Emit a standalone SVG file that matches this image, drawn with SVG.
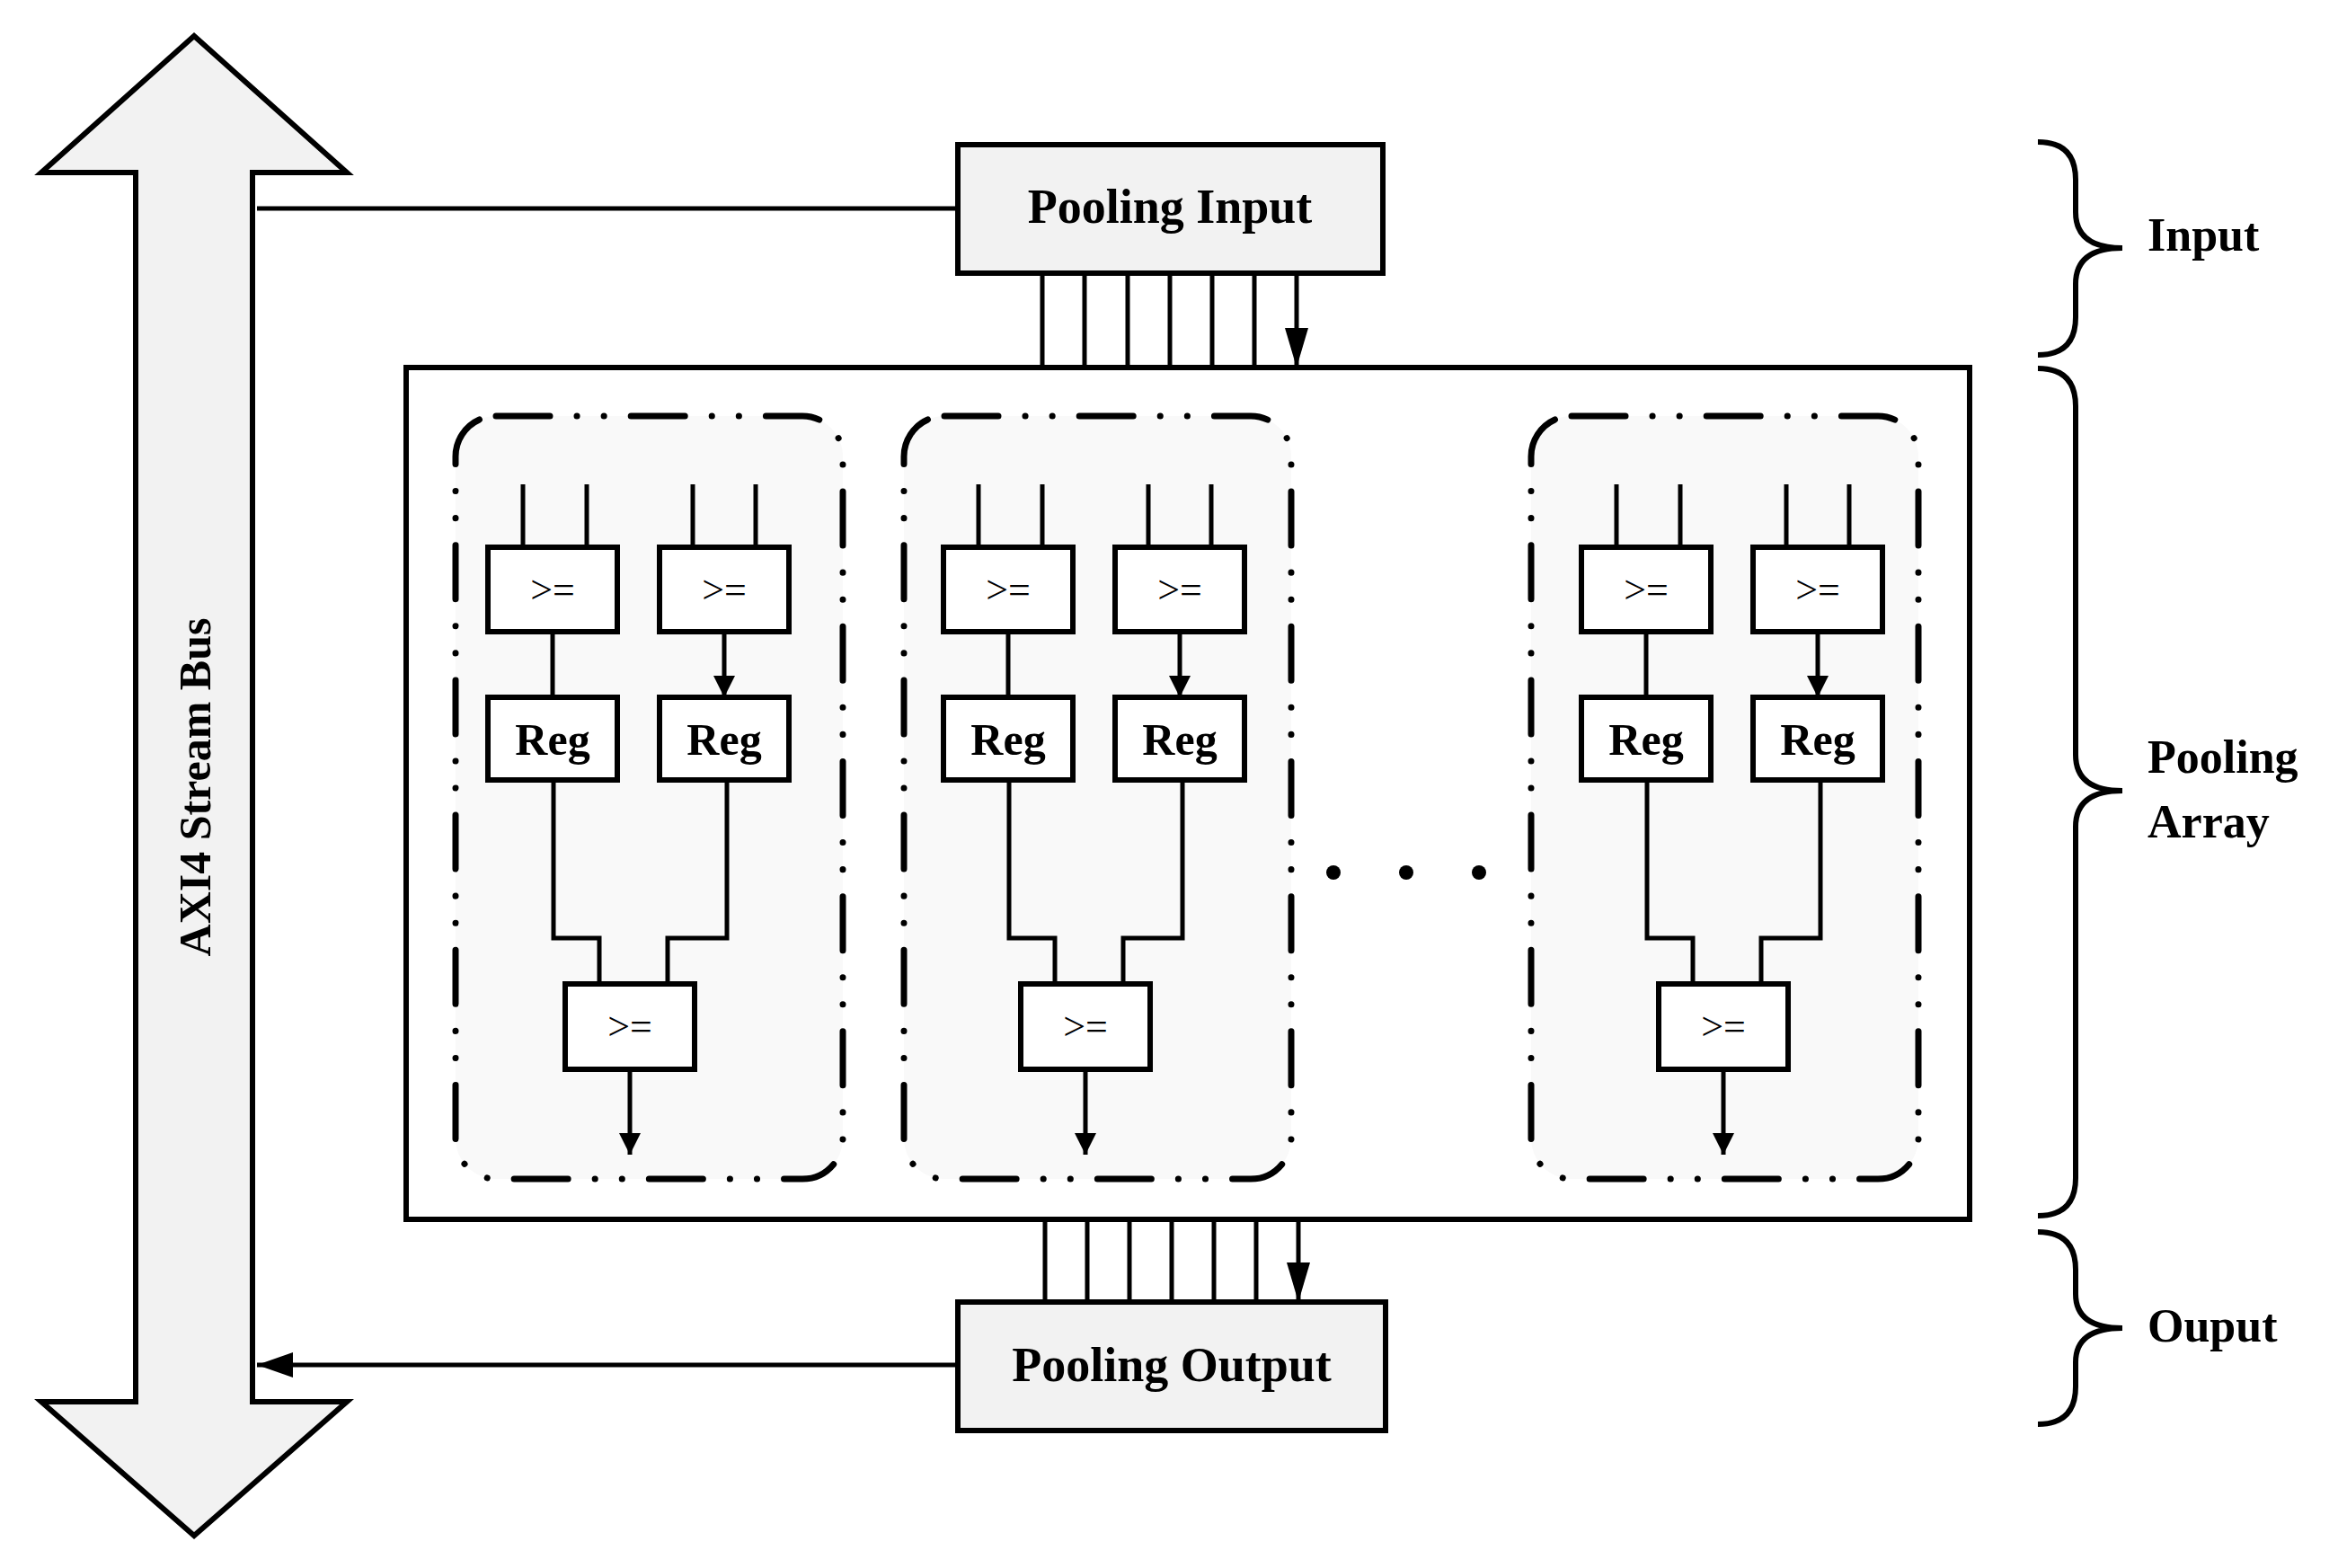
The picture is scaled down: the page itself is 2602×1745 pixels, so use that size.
<svg xmlns="http://www.w3.org/2000/svg" width="2602" height="1745" viewBox="0 0 2602 1745">
<style>
.box{fill:#f2f2f2;stroke:#000;stroke-width:6}
.wbox{fill:#fff;stroke:#000;stroke-width:6}
.ln{fill:none;stroke:#000;stroke-width:5}
.t{font-family:"Liberation Serif",serif;font-weight:bold;fill:#000}
.c{font-family:"Liberation Serif",serif;fill:#000;font-size:44px}
.grp{fill:#f9f9f9;stroke:#000;stroke-width:7;stroke-linecap:round;stroke-dasharray:60 30 0.1 30 0.1 30}
</style>
<defs>
<marker id="a" markerUnits="userSpaceOnUse" markerWidth="26" markerHeight="24" refX="24" refY="12" orient="auto"><path d="M0,0 L24,12 L0,24 z" fill="#000"/></marker>
<marker id="b" markerUnits="userSpaceOnUse" markerWidth="46" markerHeight="26" refX="44" refY="13" orient="auto"><path d="M0,0 L44,13 L0,26 z" fill="#000"/></marker>
<marker id="h" markerUnits="userSpaceOnUse" markerWidth="42" markerHeight="28" refX="40" refY="14" orient="auto"><path d="M0,0 L40,14 L0,28 z" fill="#000"/></marker>
<g id="subunit">
<path class="ln" d="M582,539 V609 M653,539 V609 M771,539 V609 M841,539 V609 M615,703 V776 M806,703 V776" marker-end="url(#a)"/>
<rect class="wbox" x="543" y="609" width="144" height="94"/>
<rect class="wbox" x="734" y="609" width="144" height="94"/>
<text class="c" x="615" y="671" text-anchor="middle">&gt;=</text>
<text class="c" x="806" y="671" text-anchor="middle">&gt;=</text>
<rect class="wbox" x="543" y="776" width="144" height="92"/>
<rect class="wbox" x="734" y="776" width="144" height="92"/>
<text class="t" x="615" y="840" font-size="50" text-anchor="middle">Reg</text>
<text class="t" x="806" y="840" font-size="50" text-anchor="middle">Reg</text>
<path class="ln" d="M616,868 V1044 H667 V1095 M809,868 V1044 H743 V1095 M701,1190 V1285" marker-end="url(#a)"/>
<rect class="wbox" x="629" y="1095" width="144" height="95"/>
<text class="c" x="701" y="1157" text-anchor="middle">&gt;=</text>
</g>
</defs>
<g id="bus">
<path d="M216,40 L386,192 L281,192 L281,1560 L386,1560 L216,1709 L46,1560 L151,1560 L151,192 L46,192 Z" fill="#f2f2f2" stroke="#000" stroke-width="6" stroke-linejoin="miter"/>
<text class="t" font-size="50" transform="translate(234,876) rotate(-90)" text-anchor="middle">AXI4 Stream Bus</text>
</g>
<g id="pooling-input">
<rect class="box" x="1066" y="161" width="473" height="143"/>
<text class="t" x="1302" y="248" font-size="54" text-anchor="middle">Pooling Input</text>
</g>
<g id="pooling-array">
<rect class="wbox" x="452" y="409" width="1740" height="948" stroke-width="4"/>
<rect class="grp" x="507" y="463" width="431" height="849" rx="45"/>
<rect class="grp" x="1006" y="463" width="431" height="849" rx="45"/>
<rect class="grp" x="1704" y="463" width="431" height="849" rx="45"/>
<use href="#subunit"/>
<use href="#subunit" transform="translate(507,0)"/>
<use href="#subunit" transform="translate(1217,0)"/>
<circle cx="1484" cy="971" r="8"/><circle cx="1565" cy="971" r="8"/><circle cx="1646" cy="971" r="8"/>
</g>
<g id="pooling-output">
<rect class="box" x="1066" y="1449" width="476" height="143"/>
<text class="t" x="1304" y="1537" font-size="54" text-anchor="middle">Pooling Output</text>
</g>
<g id="connectors">
<path class="ln" d="M1066,232 H286 M1066,1519 H286" marker-end="url(#h)"/>
<path class="ln" d="M1160,304 V409 M1207,304 V409 M1255,304 V409 M1302,304 V409 M1349,304 V409 M1396,304 V409 M1443,304 V409" marker-end="url(#b)"/>
<path class="ln" d="M1163,1357 V1449 M1210,1357 V1449 M1257,1357 V1449 M1304,1357 V1449 M1351,1357 V1449 M1398,1357 V1449 M1445,1357 V1449" marker-end="url(#b)"/>
</g>
<g id="braces" fill="none" stroke="#000" stroke-width="6">
<path d="M2268,158 Q2310,158 2310,200 L2310,236 Q2310,276 2362,276 Q2310,276 2310,316 L2310,353 Q2310,395 2268,395"/>
<path d="M2268,410 Q2310,410 2310,452 L2310,840 Q2310,880 2362,880 Q2310,880 2310,920 L2310,1311 Q2310,1353 2268,1353"/>
<path d="M2268,1371 Q2310,1371 2310,1413 L2310,1440 Q2310,1478 2362,1478 Q2310,1478 2310,1516 L2310,1543 Q2310,1585 2268,1585"/>
</g>
<g id="labels">
<text class="t" x="2390" y="279" font-size="52">Input</text>
<text class="t" x="2390" y="860" font-size="52">Pooling</text>
<text class="t" x="2390" y="932" font-size="52">Array</text>
<text class="t" x="2390" y="1493" font-size="52">Ouput</text>
</g>
</svg>
